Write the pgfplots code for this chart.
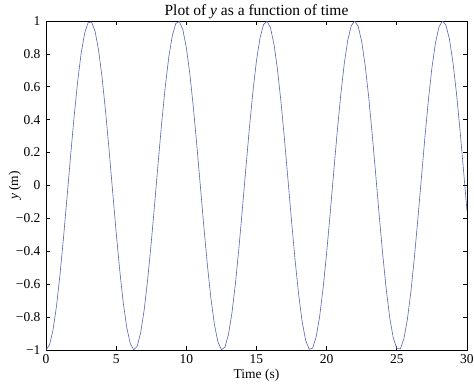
\documentclass[border=0pt]{standalone}
\usepackage{fontspec}
\setmainfont{Liberation Serif}
\usepackage{pgfplots}
\pgfplotsset{compat=1.18}
\definecolor{lineblue}{RGB}{88,100,175}
\begin{document}
\begin{tikzpicture}
\begin{axis}[
  at={(0,0)}, anchor=south west,
  scale only axis, width=421pt, height=329pt,
  xmin=0, xmax=30, ymin=-1, ymax=1,
  xtick={0,5,10,15,20,25,30},
  ytick={-1,-0.8,-0.6,-0.4,-0.2,0,0.2,0.4,0.6,0.8,1},
  yticklabels={−1,−0.8,−0.6,−0.4,−0.2,0,0.2,0.4,0.6,0.8,1},
  xticklabels={0,5,10,15,20,25,30},
  tick align=inside,
  major tick length=4pt,
  tick style={black, line width=0.8pt},
  axis line style={line width=0.9pt},
  every tick label/.style={font=\fontsize{13.5}{15}\selectfont},
  xticklabel style={anchor=base, yshift=-13pt},
  yticklabel style={xshift=-2pt},
  every axis title shift=0pt,
  title={Plot of \textit{y} as a function of time},
  title style={font=\fontsize{15.5}{17}\selectfont, at={(axis description cs:0.5,1)}, anchor=base, yshift=6pt},
  xlabel={Time (s)},
  ylabel={\textit{y} (m)},
  label style={font=\fontsize{13.5}{15}\selectfont},
  xlabel style={at={(axis description cs:0.5,0)}, anchor=base, yshift=-28pt},
  ylabel style={at={(axis description cs:-0.074,0.5)}, anchor=center},
]
\addplot[lineblue, line width=0.6pt] coordinates {
(0,-1.000)(0.25,-0.969)(0.5,-0.878)(0.75,-0.732)(1,-0.540)(1.25,-0.315)(1.5,-0.071)(1.75,0.178)
(2,0.416)(2.25,0.628)(2.5,0.801)(2.75,0.924)(3,0.990)(3.25,0.994)(3.5,0.936)(3.75,0.821)
(4,0.654)(4.25,0.446)(4.5,0.211)(4.75,-0.038)(5,-0.284)(5.25,-0.512)(5.5,-0.709)(5.75,-0.861)
(6,-0.960)(6.25,-0.999)(6.5,-0.977)(6.75,-0.893)(7,-0.754)(7.25,-0.568)(7.5,-0.347)(7.75,-0.104)
(8,0.146)(8.25,0.386)(8.5,0.602)(8.75,0.781)(9,0.911)(9.25,0.985)(9.5,0.997)(9.75,0.948)
(10,0.839)(10.25,0.678)(10.5,0.476)(10.75,0.243)(11,-0.004)(11.25,-0.252)(11.5,-0.483)(11.75,-0.685)
(12,-0.844)(12.25,-0.950)(12.5,-0.998)(12.75,-0.983)(13,-0.907)(13.25,-0.775)(13.5,-0.595)(13.75,-0.378)
(14,-0.137)(14.25,0.113)(14.5,0.355)(14.75,0.575)(15,0.760)(15.25,0.897)(15.5,0.978)(15.75,0.999)
(16,0.958)(16.25,0.857)(16.5,0.702)(16.75,0.504)(17,0.275)(17.25,0.029)(17.5,-0.219)(17.75,-0.454)
(18,-0.660)(18.25,-0.826)(18.5,-0.940)(18.75,-0.995)(19,-0.989)(19.25,-0.921)(19.5,-0.796)(19.75,-0.621)
(20,-0.408)(20.25,-0.170)(20.5,0.080)(20.75,0.324)(21,0.548)(21.25,0.738)(21.5,0.882)(21.75,0.971)
(22,1.000)(22.25,0.967)(22.5,0.873)(22.75,0.726)(23,0.533)(23.25,0.307)(23.5,0.062)(23.75,-0.187)
(24,-0.424)(24.25,-0.635)(24.5,-0.807)(24.75,-0.928)(25,-0.991)(25.25,-0.993)(25.5,-0.933)(25.75,-0.815)
(26,-0.647)(26.25,-0.438)(26.5,-0.202)(26.75,0.046)(27,0.292)(27.25,0.520)(27.5,0.715)(27.75,0.866)
(28,0.963)(28.25,1.000)(28.5,0.975)(28.75,0.889)(29,0.748)(29.25,0.561)(29.5,0.338)(29.75,0.095)
(30,-0.154)
};
\end{axis}
\pgfresetboundingbox
\path (-46pt,-34pt) rectangle (428pt,350pt);
\end{tikzpicture}
\end{document}
